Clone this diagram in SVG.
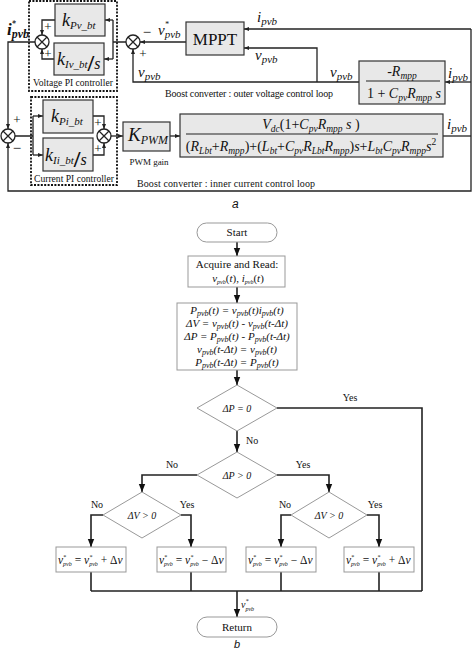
<svg xmlns="http://www.w3.org/2000/svg" width="474" height="652" viewBox="0 0 474 652">
<style>
.m{font-family:"Liberation Serif",serif;font-style:italic;fill:#111}
.t{font-family:"Liberation Serif",serif;fill:#111}
.blk{fill:#e8e8e8;stroke:#333;stroke-width:1.2}
.dot{fill:none;stroke:#111;stroke-width:1.8;stroke-dasharray:2 1.4}
.sum circle{fill:#fff;stroke:#222;stroke-width:1.3}
.sum path{stroke:#222;stroke-width:1.3}
.sum text{fill:#111}
.w{fill:none;stroke:#222;stroke-width:1.3}
.fw{fill:none;stroke:#222;stroke-width:1.6}
.fb{fill:#fff;stroke:#999;stroke-width:1}
.lbl{font-family:"Liberation Serif",serif;font-size:10px;fill:#111}
</style>
<defs>
<marker id="a" viewBox="0 0 10 10" refX="10" refY="5" markerWidth="5" markerHeight="5" orient="auto" markerUnits="userSpaceOnUse"><path d="M0,1 L10,5 L0,9 z" fill="#222"/></marker>
<marker id="b" viewBox="0 0 10 10" refX="10" refY="5" markerWidth="8" markerHeight="8" orient="auto" markerUnits="userSpaceOnUse"><path d="M0,1 L10,5 L0,9 z" fill="#111"/></marker>
</defs>

<!-- ===== Part a: block diagram ===== -->
<g id="connectors-a">
<path class="w" d="M55,20 H42 V35" marker-end="url(#a)"/>
<path class="w" d="M54,59 H42 V49" marker-end="url(#a)"/>
<path class="w" d="M35,42 H8 V129" marker-end="url(#a)"/>
<path class="w" d="M186,42 H140" marker-end="url(#a)"/>
<path class="w" d="M126,42 H113 M113,20 V59"/>
<path class="w" d="M113,20 H105" marker-end="url(#a)"/>
<path class="w" d="M113,59 H104" marker-end="url(#a)"/>
<path class="w" d="M359,82 H133 V49" marker-end="url(#a)"/>
<path class="w" d="M317,82 V48 H244" marker-end="url(#a)"/>
<path class="w" d="M471,29 H244" marker-end="url(#a)"/>
<path class="w" d="M471,29 V191 H8 V143" marker-end="url(#a)"/>
<path class="w" d="M471,82 H445" marker-end="url(#a)"/>
<path class="w" d="M443,136 H471"/>
<path class="w" d="M15,136 H33 M33,116 V155"/>
<path class="w" d="M33,116 H43" marker-end="url(#a)"/>
<path class="w" d="M33,155 H43" marker-end="url(#a)"/>
<path class="w" d="M93,116 H104 V129" marker-end="url(#a)"/>
<path class="w" d="M93,155 H104 V143" marker-end="url(#a)"/>
<path class="w" d="M111,136 H123" marker-end="url(#a)"/>
<path class="w" d="M170,136 H180" marker-end="url(#a)"/>
</g>

<g id="voltage-pi">
<rect class="dot" x="29" y="1" width="88" height="90"/>
<text class="t" x="73" y="86" font-size="9.6" text-anchor="middle">Voltage PI controller</text>
</g>
<g id="kpv">
<rect class="blk" x="55" y="4" width="50" height="32"/>
<text class="m" x="62" y="26" font-size="18">k<tspan font-size="11" dy="3">Pv_bt</tspan></text>
</g>
<g id="kiv">
<rect class="blk" x="54" y="43" width="50" height="32"/>
<text class="m" x="57" y="65" font-size="18">k<tspan font-size="11" dy="3">Iv_bt</tspan><tspan class="t" font-style="normal" font-weight="bold" font-size="24" dy="3">/</tspan><tspan font-size="16" dy="-2">s</tspan></text>
</g>
<g id="sum-v1" class="sum">
<circle cx="42" cy="42" r="7"/><path d="M37,37 L47,47 M47,37 L37,47"/>
<text class="t" x="48" y="31" font-size="13" text-anchor="middle">+</text>
<text class="t" x="48" y="58" font-size="13" text-anchor="middle">+</text>
</g>
<g id="sum-v2" class="sum">
<circle cx="133" cy="42" r="7"/><path d="M128,37 L138,47 M138,37 L128,47"/>
<text class="t" x="147" y="37" font-size="15" text-anchor="middle">−</text>
<text class="t" x="143" y="58" font-size="13" text-anchor="middle">+</text>
</g>
<g id="mppt">
<rect class="blk" x="186" y="22" width="58" height="33"/>
<text class="t" x="215" y="45" font-size="17" text-anchor="middle">MPPT</text>
</g>
<g id="tf-v">
<rect class="blk" x="359" y="61" width="86" height="43"/>
<path d="M366,81 H440" stroke="#222" stroke-width="1"/>
<text class="m" x="402" y="76" font-size="14" text-anchor="middle"><tspan font-style="normal">-</tspan>R<tspan font-size="9.5" dy="3">mpp</tspan></text>
<text class="m" x="404" y="98" font-size="14" text-anchor="middle"><tspan font-style="normal">1 + </tspan>C<tspan font-size="9.5" dy="3">pv</tspan><tspan dy="-3">R</tspan><tspan font-size="9.5" dy="3">mpp</tspan><tspan dy="-3"> s</tspan></text>
</g>
<g id="labels-a">
<text class="m" x="7" y="35" font-size="17" font-weight="bold">i<tspan font-size="8" dy="-9">*</tspan><tspan font-size="12" dx="-4" dy="12">pvb</tspan></text>
<text class="m" x="158" y="35" font-size="15">v<tspan font-size="8" dy="-8">*</tspan><tspan font-size="11" dx="-4" dy="11">pvb</tspan></text>
<text class="m" x="138" y="77" font-size="15">v<tspan font-size="11" dy="3">pvb</tspan></text>
<text class="m" x="257" y="22" font-size="15">i<tspan font-size="11" dy="3">pvb</tspan></text>
<text class="m" x="255" y="60" font-size="15">v<tspan font-size="11" dy="3">pvb</tspan></text>
<text class="m" x="330" y="77" font-size="15">v<tspan font-size="11" dy="3">pvb</tspan></text>
<text class="m" x="448" y="78" font-size="15">i<tspan font-size="11" dy="3">pvb</tspan></text>
<text class="m" x="447" y="129" font-size="15">i<tspan font-size="11" dy="3">pvb</tspan></text>
<text class="t" x="165" y="97" font-size="10" textLength="168" lengthAdjust="spacing">Boost converter : outer voltage control loop</text>
<text class="t" x="137" y="187" font-size="10" textLength="178" lengthAdjust="spacing">Boost converter : inner current control loop</text>
<text class="t" x="149" y="165" font-size="9" text-anchor="middle">PWM gain</text>
<text x="232" y="208" font-family="Liberation Sans,sans-serif" font-style="italic" font-size="12" fill="#111">a</text>
</g>

<g id="current-pi">
<rect class="dot" x="31" y="97" width="86" height="88"/>
<text class="t" x="74" y="182" font-size="9.6" text-anchor="middle">Current PI controller</text>
</g>
<g id="kpi">
<rect class="blk" x="43" y="100" width="50" height="33"/>
<text class="m" x="51" y="122" font-size="18">k<tspan font-size="11" dy="3">Pi_bt</tspan></text>
</g>
<g id="kii">
<rect class="blk" x="43" y="138" width="50" height="33"/>
<text class="m" x="45" y="161" font-size="18">k<tspan font-size="11" dy="3">Ii_bt</tspan><tspan class="t" font-style="normal" font-weight="bold" font-size="24" dy="3">/</tspan><tspan font-size="16" dy="-2">s</tspan></text>
</g>
<g id="sum-i1" class="sum">
<circle cx="8" cy="136" r="7"/><path d="M3,131 L13,141 M13,131 L3,141"/>
<text class="t" x="17" y="124" font-size="13" text-anchor="middle">+</text>
<text class="t" x="17" y="153" font-size="15" text-anchor="middle">−</text>
</g>
<g id="sum-i2" class="sum">
<circle cx="104" cy="136" r="7"/><path d="M99,131 L109,141 M109,131 L99,141"/>
<text class="t" x="98" y="127" font-size="13" text-anchor="middle">+</text>
<text class="t" x="98" y="153" font-size="13" text-anchor="middle">+</text>
</g>
<g id="kpwm">
<rect class="blk" x="123" y="122" width="47" height="29"/>
<text class="m" x="128" y="141" font-size="19">K<tspan font-size="12" dy="3">PWM</tspan></text>
</g>
<g id="tf-i">
<rect class="blk" x="180" y="114" width="263" height="43"/>
<path d="M186,134 H438" stroke="#222" stroke-width="1"/>
<text class="m" x="311" y="129" font-size="14" text-anchor="middle">V<tspan font-size="9.5" dy="3">dc</tspan><tspan font-style="normal" dy="-3">(1+</tspan>C<tspan font-size="9.5" dy="3">pv</tspan><tspan dy="-3">R</tspan><tspan font-size="9.5" dy="3">mpp</tspan><tspan dy="-3"> s </tspan><tspan font-style="normal">)</tspan></text>
<text class="m" x="311" y="151" font-size="14" text-anchor="middle"><tspan font-style="normal">(</tspan>R<tspan font-size="9.5" dy="3">Lbt</tspan><tspan font-style="normal" dy="-3">+</tspan>R<tspan font-size="9.5" dy="3">mpp</tspan><tspan font-style="normal" dy="-3">)+(</tspan>L<tspan font-size="9.5" dy="3">bt</tspan><tspan font-style="normal" dy="-3">+</tspan>C<tspan font-size="9.5" dy="3">pv</tspan><tspan dy="-3">R</tspan><tspan font-size="9.5" dy="3">Lbt</tspan><tspan dy="-3">R</tspan><tspan font-size="9.5" dy="3">mpp</tspan><tspan font-style="normal" dy="-3">)</tspan>s<tspan font-style="normal">+</tspan>L<tspan font-size="9.5" dy="3">bt</tspan><tspan dy="-3">C</tspan><tspan font-size="9.5" dy="3">pv</tspan><tspan dy="-3">R</tspan><tspan font-size="9.5" dy="3">mpp</tspan><tspan dy="-3">s</tspan><tspan font-size="9.5" font-style="normal" dy="-6">2</tspan></text>
</g>

<!-- ===== Part b: flowchart ===== -->
<g id="connectors-b">
<path class="fw" d="M237,242 V256" marker-end="url(#b)"/>
<path class="fw" d="M237,287 V303" marker-end="url(#b)"/>
<path class="fw" d="M237,370 V385" marker-end="url(#b)"/>
<path class="fw" d="M277,408 H422 V591"/>
<path class="fw" d="M237,431 V452" marker-end="url(#b)"/>
<path class="fw" d="M277,475 H329 V492" marker-end="url(#b)"/>
<path class="fw" d="M197,475 H142 V492" marker-end="url(#b)"/>
<path class="fw" d="M103,515 H91 V547" marker-end="url(#b)"/>
<path class="fw" d="M181,515 H191 V547" marker-end="url(#b)"/>
<path class="fw" d="M291,515 H281 V547" marker-end="url(#b)"/>
<path class="fw" d="M367,515 H379 V547" marker-end="url(#b)"/>
<path class="fw" d="M91,572 V591 M191,572 V591 M281,572 V591 M379,572 V591 M91,591 H422"/>
<path class="fw" d="M237,591 V617" marker-end="url(#b)"/>
<text class="lbl" x="350" y="401" text-anchor="middle">Yes</text>
<text class="lbl" x="246" y="444">No</text>
<text class="lbl" x="303" y="468" text-anchor="middle">Yes</text>
<text class="lbl" x="172" y="468" text-anchor="middle">No</text>
<text class="lbl" x="97" y="508" text-anchor="middle">No</text>
<text class="lbl" x="187" y="508" text-anchor="middle">Yes</text>
<text class="lbl" x="285" y="508" text-anchor="middle">No</text>
<text class="lbl" x="375" y="508" text-anchor="middle">Yes</text>
<text class="m" x="241" y="608" font-size="10">v<tspan font-size="6" dy="-5">*</tspan><tspan font-size="6" dx="-3" dy="8">pvb</tspan></text>
</g>

<g id="start">
<rect class="fb" x="197" y="223" width="80" height="19" rx="9.5"/>
<text class="t" x="237" y="236" font-size="11" text-anchor="middle">Start</text>
</g>
<g id="acquire">
<rect class="fb" x="188" y="256" width="97" height="31"/>
<text class="t" x="237" y="268" font-size="11" text-anchor="middle">Acquire and Read:</text>
<text class="m" x="238" y="282" font-size="11" text-anchor="middle">v<tspan font-size="6" dy="2">pvb</tspan><tspan dy="-2" font-style="normal">(</tspan>t<tspan font-style="normal">),</tspan> i<tspan font-size="6" dy="2">pvb</tspan><tspan dy="-2" font-style="normal">(</tspan>t<tspan font-style="normal">)</tspan></text>
</g>
<g id="compute">
<rect class="fb" x="177" y="303" width="120" height="67"/>
<text class="m" x="237" y="314" font-size="11" text-anchor="middle">P<tspan font-size="8" dy="2">pvb</tspan><tspan dy="-2">(t) = v</tspan><tspan font-size="8" dy="2">pvb</tspan><tspan dy="-2">(t)i</tspan><tspan font-size="8" dy="2">pvb</tspan><tspan dy="-2">(t)</tspan></text>
<text class="m" x="237" y="327" font-size="11" text-anchor="middle">ΔV = v<tspan font-size="8" dy="2">pvb</tspan><tspan dy="-2">(t) - v</tspan><tspan font-size="8" dy="2">pvb</tspan><tspan dy="-2">(t-Δt)</tspan></text>
<text class="m" x="237" y="340" font-size="11" text-anchor="middle">ΔP = P<tspan font-size="8" dy="2">pvb</tspan><tspan dy="-2">(t) - P</tspan><tspan font-size="8" dy="2">pvb</tspan><tspan dy="-2">(t-Δt)</tspan></text>
<text class="m" x="237" y="353" font-size="11" text-anchor="middle">v<tspan font-size="8" dy="2">pvb</tspan><tspan dy="-2">(t-Δt) = v</tspan><tspan font-size="8" dy="2">pvb</tspan><tspan dy="-2">(t)</tspan></text>
<text class="m" x="237" y="366" font-size="11" text-anchor="middle">P<tspan font-size="8" dy="2">pvb</tspan><tspan dy="-2">(t-Δt) = P</tspan><tspan font-size="8" dy="2">pvb</tspan><tspan dy="-2">(t)</tspan></text>
</g>
<g id="dec-dp0">
<polygon class="fb" points="237,385 277,408 237,431 197,408"/>
<text class="m" x="237" y="412" font-size="10" text-anchor="middle">ΔP = 0</text>
</g>
<g id="dec-dpgt0">
<polygon class="fb" points="237,452 277,475 237,498 197,475"/>
<text class="m" x="237" y="479" font-size="10" text-anchor="middle">ΔP &gt; 0</text>
</g>
<g id="dec-dv-left">
<polygon class="fb" points="142,492 181,515 142,538 103,515"/>
<text class="m" x="142" y="519" font-size="10" text-anchor="middle">ΔV &gt; 0</text>
</g>
<g id="dec-dv-right">
<polygon class="fb" points="329,492 367,515 329,538 291,515"/>
<text class="m" x="329" y="519" font-size="10" text-anchor="middle">ΔV &gt; 0</text>
</g>
<g id="box1">
<rect class="fb" x="56" y="547" width="70" height="25"/>
<text class="m" x="58" y="564" font-size="11.5">v<tspan font-size="6" dy="-5">*</tspan><tspan font-size="6" dx="-3" dy="7">pvb</tspan><tspan font-style="normal" dy="-2"> = </tspan>v<tspan font-size="6" dy="-5">*</tspan><tspan font-size="6" dx="-3" dy="7">pvb</tspan><tspan font-style="normal" dy="-2"> + Δ</tspan>v</text>
</g>
<g id="box2">
<rect class="fb" x="157" y="547" width="69" height="25"/>
<text class="m" x="159" y="564" font-size="11.5">v<tspan font-size="6" dy="-5">*</tspan><tspan font-size="6" dx="-3" dy="7">pvb</tspan><tspan font-style="normal" dy="-2"> = </tspan>v<tspan font-size="6" dy="-5">*</tspan><tspan font-size="6" dx="-3" dy="7">pvb</tspan><tspan font-style="normal" dy="-2"> − Δ</tspan>v</text>
</g>
<g id="box3">
<rect class="fb" x="246" y="547" width="70" height="25"/>
<text class="m" x="248" y="564" font-size="11.5">v<tspan font-size="6" dy="-5">*</tspan><tspan font-size="6" dx="-3" dy="7">pvb</tspan><tspan font-style="normal" dy="-2"> = </tspan>v<tspan font-size="6" dy="-5">*</tspan><tspan font-size="6" dx="-3" dy="7">pvb</tspan><tspan font-style="normal" dy="-2"> − Δ</tspan>v</text>
</g>
<g id="box4">
<rect class="fb" x="344" y="547" width="70" height="25"/>
<text class="m" x="346" y="564" font-size="11.5">v<tspan font-size="6" dy="-5">*</tspan><tspan font-size="6" dx="-3" dy="7">pvb</tspan><tspan font-style="normal" dy="-2"> = </tspan>v<tspan font-size="6" dy="-5">*</tspan><tspan font-size="6" dx="-3" dy="7">pvb</tspan><tspan font-style="normal" dy="-2"> + Δ</tspan>v</text>
</g>
<g id="return">
<rect class="fb" x="197" y="617" width="80" height="20" rx="10"/>
<text class="t" x="237" y="631" font-size="11" text-anchor="middle">Return</text>
</g>
<text x="234" y="648" font-family="Liberation Sans,sans-serif" font-style="italic" font-size="11" fill="#111">b</text>
</svg>
